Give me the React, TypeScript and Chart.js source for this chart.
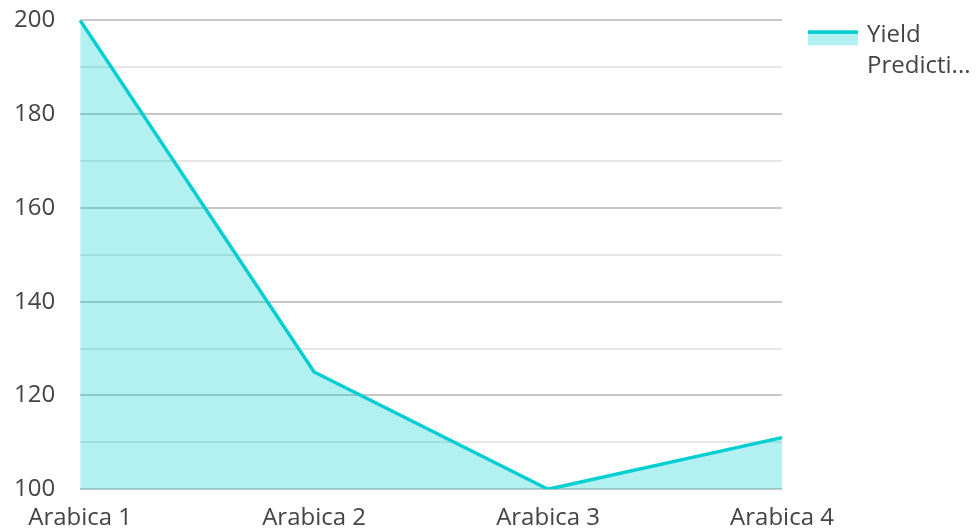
import React, { useEffect, useRef } from "react";
import { Chart, registerables } from "chart.js";

Chart.register(...registerables);

const categories = ["Arabica 1", "Arabica 2", "Arabica 3", "Arabica 4"];
const yieldValues = [200, 125, 100, 111];
const seriesLabel = "Yield Prediction";
const legendLines = ["Yield", "Predicti..."];
const yMin = 100;
const yMax = 200;

const LINE = "rgb(0,206,209)";
const FILL = "rgba(0,206,209,0.3)";
const FONT = "'Open Sans', sans-serif";
const TEXT = "#444444";

export default function App() {
  const ref = useRef<HTMLCanvasElement>(null);
  useEffect(() => {
    if (!ref.current) return;
    const legendPlugin = {
      id: "customLegend",
      afterDraw(chart: any) {
        const { ctx, chartArea } = chart;
        const x = chartArea.right + 26;
        const y = chartArea.top + 10;
        ctx.save();
        ctx.fillStyle = FILL;
        ctx.fillRect(x, y, 50, 15);
        ctx.fillStyle = LINE;
        ctx.fillRect(x, y, 50, 3.5);
        ctx.fillStyle = TEXT;
        ctx.font = `24px ${FONT}`;
        ctx.textBaseline = "alphabetic";
        ctx.textAlign = "left";
        legendLines.forEach((t, i) => ctx.fillText(t, x + 59, y + 12 + i * 31));
        ctx.restore();
      },
    };
    const chart = new Chart(ref.current, {
      type: "line",
      data: {
        labels: categories,
        datasets: [
          {
            label: seriesLabel,
            data: yieldValues,
            borderColor: LINE,
            backgroundColor: FILL,
            borderWidth: 3.5,
            pointRadius: 0,
            tension: 0,
            fill: "start",
          },
        ],
      },
      options: {
        animation: false,
        responsive: true,
        maintainAspectRatio: false,
        layout: { padding: { left: 0, right: 194, top: 2, bottom: 0 } },
        plugins: { legend: { display: false }, tooltip: { enabled: false } },
        scales: {
          x: {
            offset: false,
            grid: { display: false },
            border: { display: false },
            ticks: { padding: 7, color: TEXT, font: { family: FONT, size: 24 }, maxRotation: 0 },
          },
          y: {
            min: yMin,
            max: yMax,
            border: { display: false },
            grid: {
              drawTicks: false,
              lineWidth: 2,
              color: (c: any) => (c.tick && c.tick.value % 20 === 0 ? "#c8c8c8" : "#e6e6e6"),
            },
            ticks: {
              stepSize: 10,
              padding: 25,
              color: TEXT,
              font: { family: FONT, size: 24 },
              callback: (v: any) => (Number(v) % 20 === 0 ? String(v) : ""),
            },
          },
        },
      },
      plugins: [legendPlugin],
    });
    return () => chart.destroy();
  }, []);
  return (
    <div style={{ position: "fixed", left: -11, top: -19, width: 987, height: 559 }}>
      <canvas ref={ref} />
    </div>
  );
}
